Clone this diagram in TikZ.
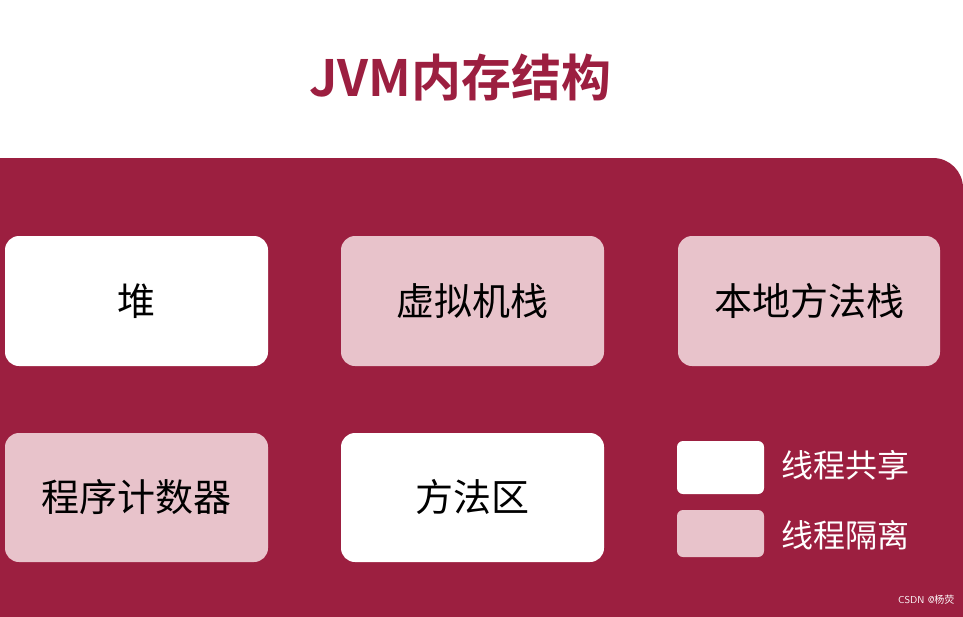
\documentclass[tikz,border=0pt]{standalone}
\usepackage{fontspec}
\newfontfamily\cjk{Noto Sans CJK SC}
\newfontfamily\cjkb{Noto Sans CJK SC Bold}
\definecolor{crim}{HTML}{9C1F40}
\definecolor{pinkb}{HTML}{E8C3CB}
\begin{document}
\begin{tikzpicture}[x=1pt,y=-1pt,
  box/.style={draw=none,rounded corners=14pt,font=\cjk\fontsize{38}{40}\selectfont,text=black},
  leg/.style={draw=none,rounded corners=6pt},
  legtext/.style={font=\cjk\fontsize{32}{34}\selectfont,text=black!80,anchor=west}]
\useasboundingbox (0,0) rectangle (963,616);
\fill[white] (0,0) rectangle (963,616);
\node[font=\cjkb\fontsize{50}{52}\selectfont,text=crim] (title) at (460,78) {JVM内存结构};
\fill[crim,rounded corners=30pt] (-40,158) rectangle (963,660);
\fill[crim] (-40,158) rectangle (100,660);
\fill[crim] (-40,500) rectangle (963,660);
\fill[box,white] (5,236) rectangle (268,366);
\node[box] (heap) at (136,301) {堆};
\fill[box,pinkb] (341,236) rectangle (604,366);
\node[box] (vms) at (472,301) {虚拟机栈};
\fill[box,pinkb] (678,236) rectangle (940,366);
\node[box] (nms) at (809,301) {本地方法栈};
\fill[box,pinkb] (5,433) rectangle (268,562);
\node[box] (pc) at (136,497) {程序计数器};
\fill[box,white] (341,433) rectangle (604,562);
\node[box] (ma) at (472,497) {方法区};
\fill[leg,white] (677,441) rectangle (764,494);
\node[legtext,text=white] (l1) at (778,465) {线程共享};
\fill[leg,pinkb] (677,510) rectangle (764,557);
\node[legtext,text=white] (l2) at (778,535) {线程隔离};
\node[font=\sffamily\fontsize{10}{12}\selectfont,text=white,anchor=east] (wm) at (958,600) {CSDN @\cjk 杨荧};
\end{tikzpicture}
\end{document}
